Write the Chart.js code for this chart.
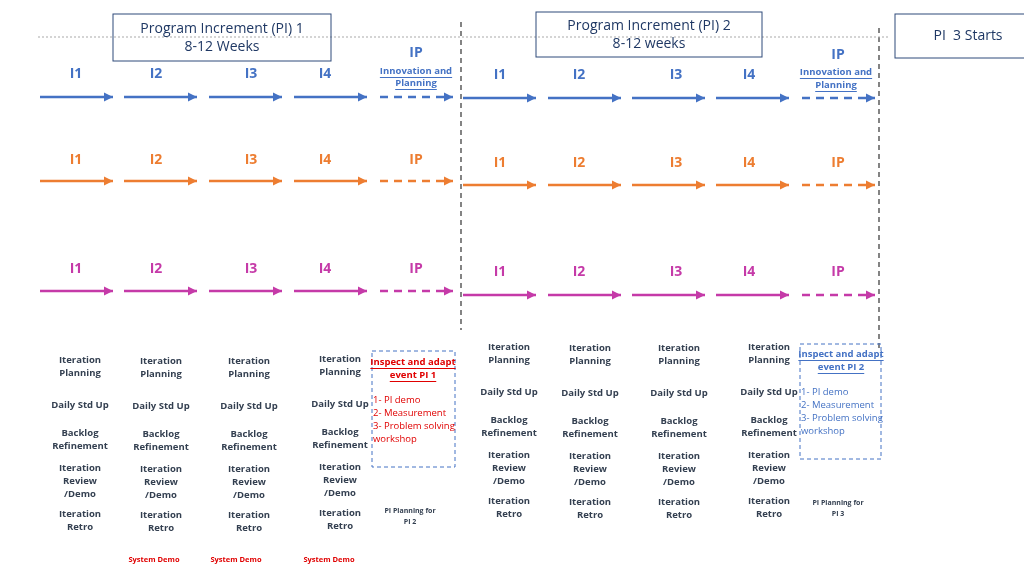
<!DOCTYPE html><html><head><meta charset="utf-8">
<script src="https://cdn.jsdelivr.net/npm/chart.js@4"></script>
<style>html,body{margin:0;background:#fff}#w{width:1024px;height:576px}</style></head><body><div id="w"><canvas id="c"></canvas></div>
<script>
const iterations=["I1","I2","I3","I4","IP"];
const rowColors=["#4472C4","#ED7D31","#C53AA8"];
const piTitles=[["Program Increment (PI) 1","8-12 Weeks"],["Program Increment (PI) 2","8-12 weeks"],["PI  3 Starts"]];
const activities=[["Iteration","Planning"],["Daily Std Up"],["Backlog","Refinement"],["Iteration","Review","/Demo"],["Iteration","Retro"]];
const inspectItems=["1- PI demo","2- Measurement","3- Problem solving","workshop"];
const systemDemo="System Demo";
const arrowStartsL=[40,124,209,294,380],arrowStartsR=[463,548,632,716,802],arrowLen=73;
const rowYL=[97,181,291],rowYR=[98,185,295];
const labXL=[76,156,251,325,416],labXR=[500,579,676,749,838];
const labYL=[74,160,269],labYR=[75,163,272];
const datasets=[];
[[arrowStartsL,rowYL],[arrowStartsR,rowYR]].forEach(([xs,ys])=>{
 ys.forEach((y,r)=>xs.forEach((x,i)=>datasets.push({type:'line',data:[{x:x,y:y},{x:x+arrowLen,y:y}],borderColor:rowColors[r],borderWidth:2.5,pointRadius:0,borderDash:i==4?[8,6]:[],arrow:true})));
});
datasets.push({type:'line',data:[{x:38,y:37},{x:890,y:37}],borderColor:'#aaa',borderWidth:1,borderDash:[2,2],pointRadius:0});
datasets.push({type:'line',data:[{x:461,y:22},{x:461,y:330}],borderColor:'#333',borderWidth:1.2,borderDash:[5,4],pointRadius:0});
datasets.push({type:'line',data:[{x:879,y:28},{x:879,y:350}],borderColor:'#333',borderWidth:1.2,borderDash:[5,4],pointRadius:0});
const plug={id:'dg',afterDatasetsDraw(ch){
 const c=ch.ctx,X=v=>ch.scales.x.getPixelForValue(v),Y=v=>ch.scales.y.getPixelForValue(v);
 ch.data.datasets.forEach(d=>{if(!d.arrow)return;const p=d.data[1];c.fillStyle=d.borderColor;c.beginPath();c.moveTo(X(p.x),Y(p.y));c.lineTo(X(p.x)-9,Y(p.y)-4.5);c.lineTo(X(p.x)-9,Y(p.y)+4.5);c.fill();});
 const txt=(s,x,y,f,col,al='center',ul=false)=>{c.font=f;c.fillStyle=col;c.textAlign=al;c.textBaseline='middle';c.fillText(s,X(x),Y(y));if(ul){const w=c.measureText(s).width;const x0=al=='center'?X(x)-w/2:X(x);c.fillRect(x0,Y(y)+6,w,1);}};
 const box=(x0,y0,x1,y1,dash)=>{c.save();c.strokeStyle=dash?'#4472C4':'#2F4A7A';c.lineWidth=1;c.setLineDash(dash?[4,3]:[]);c.strokeRect(X(x0),Y(y0),X(x1)-X(x0),Y(y1)-Y(y0));c.restore();};
 box(113,14,331,61);box(536,12,762,57);box(895,14,1030,58);
 const tf='14px "Open Sans"',tc='#1F3864';
 txt(piTitles[0][0],222,29,tf,tc);txt(piTitles[0][1],222,47,tf,tc);
 txt(piTitles[1][0],649,26,tf,tc);txt(piTitles[1][1],649,44,tf,tc);
 txt(piTitles[2][0],968,36,tf,tc);
 const lf='bold 14px "Open Sans"';
 rowColors.forEach((col,r)=>iterations.forEach((it,i)=>{
  const yl=i==4&&r==0?53:labYL[r],yr=i==4&&r==0?55:labYR[r];
  txt(it,labXL[i],yl,lf,col);txt(it,labXR[i],yr,lf,col);}));
 const sf='bold 9.5px "Open Sans"';
 txt("Innovation and",416,71,sf,'#4472C4','center',true);txt("Planning",416,83,sf,'#4472C4','center',true);
 txt("Innovation and",836,72,sf,'#4472C4','center',true);txt("Planning",836,85,sf,'#4472C4','center',true);
 const af='bold 9.5px "Open Sans"',ac='#333F50';
 const actY=[[360,373],[405],[433,446],[468,481,494],[514,527]];
 const colsL=[[80,0],[161,1],[249,1],[340,-1]],colsR=[[509,-13],[590,-12],[679,-12],[769,-13]];
 colsL.concat(colsR).forEach(([x,dy])=>activities.forEach((a,j)=>a.forEach((s,m)=>txt(s,x,actY[j][m]+dy,af,ac))));
 [154,236,329].forEach(x=>txt(systemDemo,x,560,'bold 7.5px "Open Sans"','#E00000'));
 box(372,351,455,467,true);box(800,344,881,459,true);
 const hf='bold 9.5px "Open Sans"';
 txt("Inspect and adapt",413,362,hf,'#E00000','center',true);txt("event PI 1",413,375,hf,'#E00000','center',true);
 txt("Inspect and adapt",841,354,hf,'#4472C4','center',true);txt("event PI 2",841,367,hf,'#4472C4','center',true);
 inspectItems.forEach((s,i)=>{txt(s,373,400+i*13,'9.5px "Open Sans"','#E00000','left');txt(s,801,392+i*13,'9.5px "Open Sans"','#4472C4','left');});
 const pf='bold 7px "Open Sans"';
 txt("PI Planning for",410,511,pf,ac);txt("PI 2",410,522,pf,ac);
 txt("PI Planning for",838,503,pf,ac);txt("PI 3",838,514,pf,ac);
}};
new Chart(document.getElementById('c'),{type:'line',data:{datasets},plugins:[plug],options:{responsive:true,maintainAspectRatio:false,animation:false,layout:{padding:0},
 plugins:{legend:{display:false},tooltip:{enabled:false}},
 scales:{x:{type:'linear',min:0,max:1024,display:false},y:{type:'linear',min:0,max:576,reverse:true,display:false}}}});
</script></body></html>
